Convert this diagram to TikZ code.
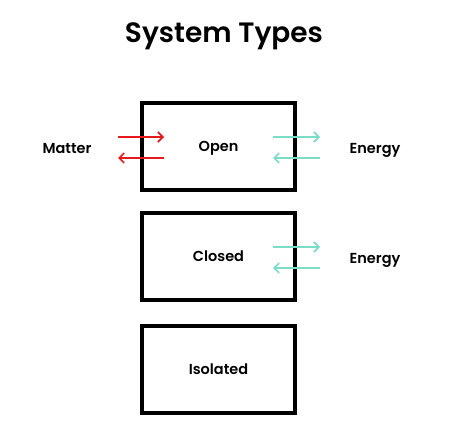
\documentclass[tikz,border=0pt]{standalone}
\usepackage{fontspec}
\setmainfont{Poppins}[BoldFont={* SemiBold}]
\usetikzlibrary{positioning,arrows.meta}

\definecolor{matterred}{RGB}{230,25,30}
\definecolor{energyteal}{RGB}{125,220,200}

\tikzset{
  sysbox/.style={draw, line width=4pt, minimum width=153pt, minimum height=87pt,
    font=\fontsize{14.5}{16}\selectfont\bfseries, text height=10pt, text depth=0pt},
  flowlabel/.style={font=\fontsize{14.5}{16}\selectfont\bfseries, text height=10pt, text depth=0pt},
  matterflow/.style={matterred, line width=1.6pt, -{Straight Barb[length=5pt,width=10pt]}},
  energyflow/.style={energyteal, line width=1.6pt, -{Straight Barb[length=5pt,width=10pt]}}
}

\begin{document}
\begin{tikzpicture}[x=1pt,y=-1pt]
  \useasboundingbox (0,0) rectangle (450,436);

  % Title
  \node[font=\fontsize{28}{32}\selectfont\bfseries, text height=20pt, text depth=0pt]
    (title) at (224,33) {System Types};

  % --- Boxes ---
  \node[sysbox] (open) at (218.5,146.5) {Open};
  \node[sysbox] (closed) at (218.5,256.5) {Closed};
  \node[sysbox] (isolated) at (218.5,369) {Isolated};

  % --- Side labels ---
  \node[flowlabel] (matter) at (67,148) {Matter};
  \node[flowlabel] (energyO) at (375,148) {Energy};
  \node[flowlabel] (energyC) at (375,258) {Energy};

  % Arrow ends (open system)
  \def\UP{137}
  \def\DN{158}
  \coordinate (mA) at (118,\UP);
  \coordinate (mB) at (164,\UP);
  \coordinate (mC) at (164,\DN);
  \coordinate (mD) at (118,\DN);
  \coordinate (eA) at (273,\UP);
  \coordinate (eB) at (320,\UP);
  \coordinate (eC) at (320,\DN);
  \coordinate (eD) at (273,\DN);
  % Arrow ends (closed system)
  \coordinate (cA) at (273,247);
  \coordinate (cB) at (320,247);
  \coordinate (cC) at (320,268);
  \coordinate (cD) at (273,268);

  % Matter in / out
  \draw[matterflow] (mA) -- (mB);
  \draw[matterflow] (mC) -- (mD);
  % Energy in / out
  \draw[energyflow] (eA) -- (eB);
  \draw[energyflow] (eC) -- (eD);
  \draw[energyflow] (cA) -- (cB);
  \draw[energyflow] (cC) -- (cD);
\end{tikzpicture}
\end{document}
